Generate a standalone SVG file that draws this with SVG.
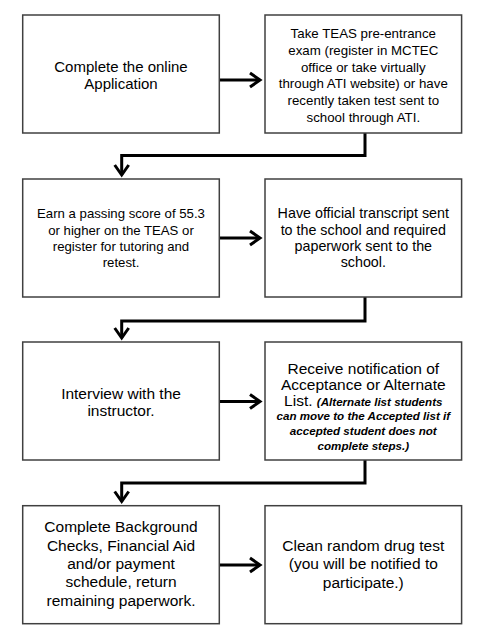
<svg xmlns="http://www.w3.org/2000/svg" width="481" height="642" viewBox="0 0 481 642">
<style>
.box{fill:#fff;stroke:#404040;stroke-width:1.5}
.t{font-family:"Liberation Sans",Arial,sans-serif;font-size:13.5px;fill:#000;text-anchor:middle}
.s1{font-size:15px}
.s2{font-size:13.3px}
.s3{font-size:13.2px}
.s4{font-size:14.3px}
.s5{font-size:15.5px}
.l{font-size:15.5px}
.i{font-size:11.6px;font-style:italic;font-weight:bold}
.c{fill:none;stroke:#000;stroke-width:3}
</style>
<defs>
<marker id="arr" viewBox="0 0 16 20" markerWidth="16" markerHeight="20" markerUnits="userSpaceOnUse" refX="13" refY="10" orient="auto">
<path d="M3,3 L13,10 L3,17" fill="none" stroke="#000" stroke-width="3"/>
</marker>
</defs>
<rect width="481" height="642" fill="#fff"/>
<g id="connectors">
<path class="c" d="M220,80 H260" marker-end="url(#arr)"/>
<path class="c" d="M365,133 V155.5 H121.7 V175" marker-end="url(#arr)"/>
<path class="c" d="M220,238 H260" marker-end="url(#arr)"/>
<path class="c" d="M365,297 V321 H121.7 V338" marker-end="url(#arr)"/>
<path class="c" d="M220,401.5 H260" marker-end="url(#arr)"/>
<path class="c" d="M365,460 V483 H121.7 V501.5" marker-end="url(#arr)"/>
<path class="c" d="M220,565 H260" marker-end="url(#arr)"/>
</g>
<g id="n1"><rect class="box" x="22.7" y="15" width="196.6" height="118"/>
<text class="t s1" x="121" y="72">Complete the online</text>
<text class="t s1" x="121" y="88.5">Application</text></g>
<g id="n2"><rect class="box" x="265" y="15" width="196.6" height="118"/>
<text class="t s2" x="363.3" y="38">Take TEAS pre-entrance</text>
<text class="t s2" x="363.3" y="55">exam (register in MCTEC</text>
<text class="t s2" x="363.3" y="71.5">office or take virtually</text>
<text class="t s2" x="363.3" y="88">through ATI website) or have</text>
<text class="t s2" x="363.3" y="105">recently taken test sent to</text>
<text class="t s2" x="363.3" y="121.5">school through ATI.</text></g>
<g id="n3"><rect class="box" x="22.7" y="179" width="196.6" height="118"/>
<text class="t s3" x="121" y="218">Earn a passing score of 55.3</text>
<text class="t s3" x="121" y="235">or higher on the TEAS or</text>
<text class="t s3" x="121" y="251">register for tutoring and</text>
<text class="t s3" x="121" y="267">retest.</text></g>
<g id="n4"><rect class="box" x="265" y="179" width="196.6" height="118"/>
<text class="t s4" x="363.3" y="218">Have official transcript sent</text>
<text class="t s4" x="363.3" y="235">to the school and required</text>
<text class="t s4" x="363.3" y="251">paperwork sent to the</text>
<text class="t s4" x="363.3" y="267">school.</text></g>
<g id="n5"><rect class="box" x="22.7" y="342" width="196.6" height="118"/>
<text class="t s5" x="121" y="398.5">Interview with the</text>
<text class="t s5" x="121" y="415.5">instructor.</text></g>
<g id="n6"><rect class="box" x="265" y="342" width="196.6" height="118"/>
<text class="t l" x="363.3" y="373.5">Receive notification of</text>
<text class="t l" x="363.3" y="390">Acceptance or Alternate</text>
<text class="t" x="363.3" y="406"><tspan class="l">List. </tspan><tspan class="i">(Alternate list students</tspan></text>
<text class="t i" x="363.3" y="419.5">can move to the Accepted list if</text>
<text class="t i" x="363.3" y="434.5">accepted student does not</text>
<text class="t i" x="363.3" y="449.5">complete steps.)</text></g>
<g id="n7"><rect class="box" x="22.7" y="505.7" width="196.6" height="118"/>
<text class="t l" x="121" y="532">Complete Background</text>
<text class="t l" x="121" y="550.5">Checks, Financial Aid</text>
<text class="t l" x="121" y="569">and/or payment</text>
<text class="t l" x="121" y="587">schedule, return</text>
<text class="t l" x="121" y="606">remaining paperwork.</text></g>
<g id="n8"><rect class="box" x="265" y="505.7" width="196.6" height="118"/>
<text class="t l" x="363.3" y="550.5">Clean random drug test</text>
<text class="t l" x="363.3" y="569">(you will be notified to</text>
<text class="t l" x="363.3" y="587.5">participate.)</text></g>
</svg>
